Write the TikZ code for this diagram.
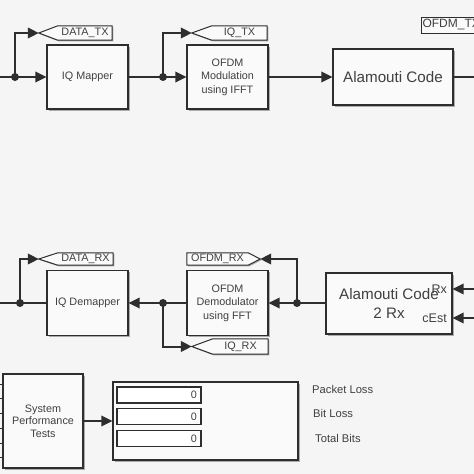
\documentclass[tikz,border=0pt]{standalone}
\usepackage{fontspec}
\setmainfont{Liberation Sans}
\usetikzlibrary{arrows.meta,shadows}
\pgfdeclarelayer{back}
\pgfdeclarelayer{mid}
\pgfsetlayers{back,mid,main}
\definecolor{bg}{HTML}{F5F5F5}
\definecolor{boxfill}{HTML}{FAFAFA}
\definecolor{ink}{HTML}{2E2E2E}
\definecolor{txt}{HTML}{404040}
\tikzset{
 blk/.style={draw=ink, line width=1.2pt, fill=boxfill, drop shadow={shadow xshift=1.5pt, shadow yshift=-1.5pt, fill=gray!80, opacity=0.8}, text=txt, align=center, inner sep=0pt, font=\fontsize{10.8}{13.5}\selectfont},
 bigblk/.style={blk, font=\fontsize{15.2}{19}\selectfont},
 tagtext/.style={inner sep=0pt, text=txt, font=\fontsize{10.8}{12}\selectfont},
 tagline/.style={draw=ink, line width=1pt, fill=boxfill, drop shadow={shadow xshift=1.2pt, shadow yshift=-1.2pt, fill=gray!80, opacity=0.8}},
 sig/.style={draw=ink, line width=2pt},
 arr/.style={sig, -{Triangle[length=11pt,width=10.5pt]}},
 dot/.style={fill=ink},
 field/.style={draw=ink, line width=1.1pt, fill=white, minimum width=84pt, minimum height=16pt, inner xsep=4pt, inner ysep=0pt, text width=76pt, align=right, text=txt, font=\fontsize{10.8}{12}\selectfont},
 lbl/.style={text=txt, font=\fontsize{11.2}{13}\selectfont, inner sep=0pt, anchor=west},
 port/.style={text=txt, font=\fontsize{12.5}{14}\selectfont, inner sep=0pt, anchor=east},
}
\begin{document}
\begin{tikzpicture}[x=1pt,y=-1pt]
\useasboundingbox (0,0) rectangle (474,474);
\clip (0,0) rectangle (474,474);
\begin{pgfonlayer}{back}
\fill[bg] (0,0) rectangle (474,474);
\end{pgfonlayer}

% ---------- transmitter row ----------
\node[blk, minimum width=81pt, minimum height=64pt] (map) at (87.5,77) {IQ Mapper};
\node[blk, minimum width=81pt, minimum height=64pt] (mod) at (227.5,77) {OFDM\\Modulation\\using IFFT};
\node[bigblk, minimum width=120pt, minimum height=56pt] (ala) at (393,77) {Alamouti Code};

\node[tagtext, minimum width=54pt, minimum height=14pt] (dtx) at (85,33) {DATA\_TX};
\coordinate (dtxT) at ([xshift=-19pt]dtx.west);
\node[tagtext, minimum width=55pt, minimum height=14pt] (iqtx) at (239.5,33) {IQ\_TX};
\coordinate (iqtxT) at ([xshift=-20pt]iqtx.west);
\node[tagtext, draw=ink, line width=1pt, fill=boxfill, drop shadow={shadow xshift=1.2pt, shadow yshift=-1.2pt, fill=gray!80, opacity=0.8}, minimum height=16pt, inner xsep=1pt, text width=60pt, align=left, anchor=west, font=\fontsize{12}{13}\selectfont] (otx) at (421,25) {OFDM\_TX};

\begin{pgfonlayer}{mid}
\draw[tagline] (dtx.north east) -- (dtx.north west) -- (dtxT) -- (dtx.south west) -- (dtx.south east) -- cycle;
\draw[tagline] (iqtx.north east) -- (iqtx.north west) -- (iqtxT) -- (iqtx.south west) -- (iqtx.south east) -- cycle;
\end{pgfonlayer}

\coordinate (inL) at (0,77);
\coordinate (j1) at (15,77);
\coordinate (j2) at (163,77);
\coordinate (outR) at (474,77);
\draw[sig] (inL) -- (j1);
\draw[arr] (j1) -- (map.west);
\draw[arr] (j1) |- (dtxT);
\draw[sig] (map.east) -- (j2);
\draw[arr] (j2) -- (mod.west);
\draw[arr] (j2) |- (iqtxT);
\draw[arr] (mod.east) -- (ala.west);
\draw[sig] (ala.east) -- (outR);
\fill[dot] (j1) circle (4);
\fill[dot] (j2) circle (4);

% ---------- receiver row ----------
\node[blk, minimum width=81pt, minimum height=65pt] (demap) at (87.5,303) {IQ Demapper};
\node[blk, minimum width=81pt, minimum height=65pt] (demod) at (227.5,303) {OFDM\\Demodulator\\using FFT};
\node[bigblk, minimum width=126pt, minimum height=61pt] (ala2) at (389,303.5) {Alamouti Code\\2 Rx};
\node[port] (prx) at (447,289) {Rx};
\node[port] (pce) at (447,318) {cEst};

\node[tagtext, minimum width=55pt, minimum height=12pt] (drx) at (85.5,259) {DATA\_RX};
\coordinate (drxT) at ([xshift=-19pt]drx.west);
\node[tagtext, minimum width=61pt, minimum height=12pt] (orx) at (217.5,259) {OFDM\_RX};
\coordinate (orxT) at ([xshift=12pt]orx.east);
\node[tagtext, minimum width=55pt, minimum height=15pt] (iqrx) at (240.5,346.5) {IQ\_RX};
\coordinate (iqrxT) at ([xshift=-21pt]iqrx.west);

\begin{pgfonlayer}{mid}
\draw[tagline] (drx.north east) -- (drx.north west) -- (drxT) -- (drx.south west) -- (drx.south east) -- cycle;
\draw[tagline] (orx.north west) -- (orx.north east) -- (orxT) -- (orx.south east) -- (orx.south west) -- cycle;
\draw[tagline] (iqrx.north east) -- (iqrx.north west) -- (iqrxT) -- (iqrx.south west) -- (iqrx.south east) -- cycle;
\end{pgfonlayer}

\coordinate (outL) at (0,303);
\coordinate (j3) at (20,303);
\coordinate (j4) at (163,303);
\coordinate (j5) at (297,303);
\coordinate (rxIn) at (474,289);
\coordinate (ceIn) at (474,318);
\draw[sig] (demap.west) -- (j3) -- (outL);
\draw[arr] (j3) |- (drxT);
\draw[sig] (demod.west) -- (j4);
\draw[arr] (j4) -- (demap.east);
\draw[arr] (j4) |- (iqrxT);
\draw[sig] (ala2.west |- j5) -- (j5);
\draw[arr] (j5) -- (demod.east);
\draw[arr] (j5) |- (orxT);
\draw[arr] (rxIn) -- (ala2.east |- rxIn);
\draw[arr] (ceIn) -- (ala2.east |- ceIn);
\fill[dot] (j3) circle (4);
\fill[dot] (j4) circle (4);
\fill[dot] (j5) circle (4);

% ---------- performance ----------
\node[blk, minimum width=80pt, minimum height=94pt, font=\fontsize{10.8}{12.5}\selectfont] (spt) at (43,421) {System\\Performance\\Tests};
\foreach \yy in {384,398,413,428,443,457} \draw[ink, line width=0.8pt] (0,\yy) -- (3,\yy);
\node[blk, minimum width=185pt, minimum height=78pt] (disp) at (205.5,421) {};
\draw[arr] (spt.east) -- (disp.west);
\node[field] (f1) at (159,395) {0};
\node[field] (f2) at (159,416.5) {0};
\node[field] (f3) at (159,438.5) {0};
\node[lbl] (l1) at (312,389) {Packet Loss};
\node[lbl] (l2) at (313,413) {Bit Loss};
\node[lbl] (l3) at (315,438) {Total Bits};
\end{tikzpicture}
\end{document}
